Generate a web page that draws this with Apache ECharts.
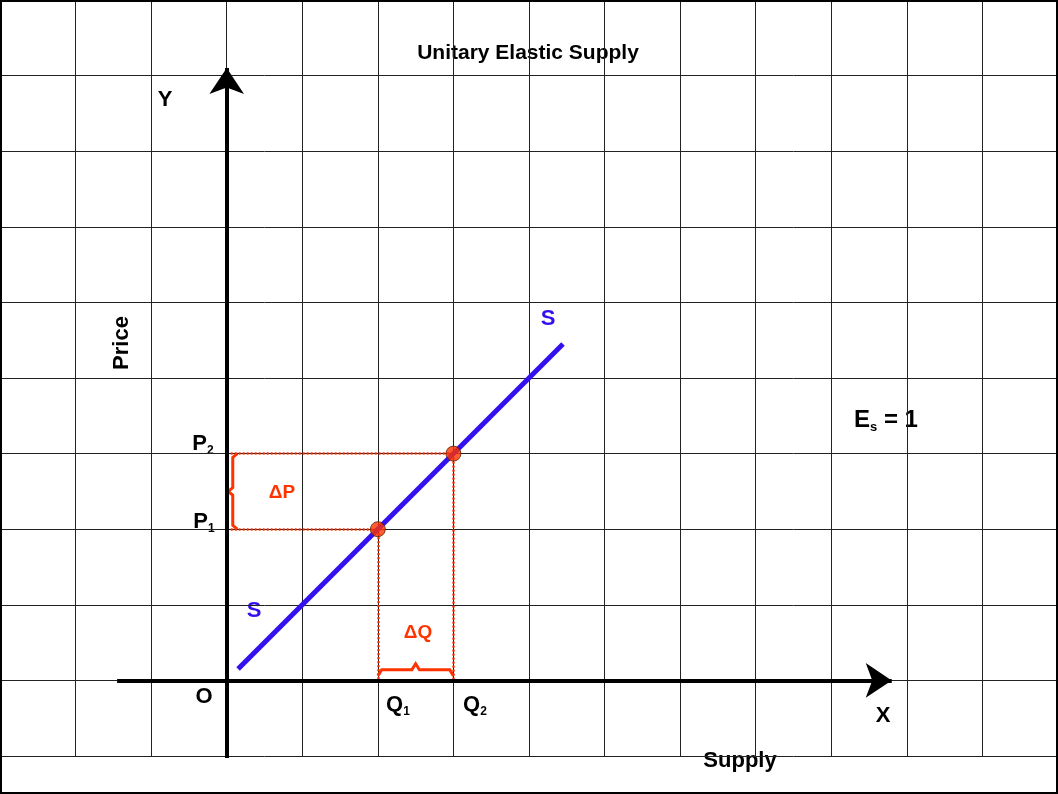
<!DOCTYPE html>
<html><head><meta charset="utf-8">
<script src="https://cdn.jsdelivr.net/npm/echarts@6/dist/echarts.min.js"></script>
<style>html,body{margin:0;padding:0;background:#fff}#c{width:1058px;height:794px}</style>
</head><body><div id="c"></div>
<script>
var supplyLine = [[0.15, 0.15], [4.45, 4.45]];
var points = [[2, 2], [3, 3]];
var xAxisLine = [[-1.45, 0], [8.8, 0]];
var yAxisLine = [[0, -1.2], [0, 8.1]];
var guides = [
    [[0, 3], [3, 3]], [[0, 2], [2, 2]],
    [[2, 2], [2, 0]], [[3, 3], [3, 0]]
];
var braceP = [[0.14, 2.0], [0.08, 2.05], [0.08, 2.45], [0.02, 2.5], [0.08, 2.55], [0.08, 2.95], [0.14, 3.0]];
var braceQ = [[2.0, 0.06], [2.05, 0.14], [2.45, 0.14], [2.5, 0.22], [2.55, 0.14], [2.95, 0.14], [3.0, 0.06]];

var red = '#ff3300', blue = '#3311ee';
var chart = echarts.init(document.getElementById('c'));
function lab(x, y, rich, text, color, size) {
    return {type: 'text', x: x, y: y, style: {text: text, fill: color || '#000', font: 'bold ' + (size || 22) + 'px "Liberation Sans", Arial', textAlign: 'center', textVerticalAlign: 'middle', rich: rich}};
}
var sub = {s: {fontSize: 12, fontWeight: 'bold', padding: [14, 0, 0, 0], fontFamily: 'Liberation Sans'}, m: {fontSize: 22, fontWeight: 'bold', fontFamily: 'Liberation Sans'}};
chart.setOption({
    backgroundColor: '#fff',
    animation: false,
    grid: {left: 0, top: 0, width: 1058, height: 756},
    xAxis: {type: 'value', min: -3, max: 11, interval: 1, axisLine: {show: false}, axisTick: {show: false}, axisLabel: {show: false},
        splitLine: {lineStyle: {color: '#222', width: 1}}},
    yAxis: {type: 'value', min: -1, max: 9, interval: 1, axisLine: {show: false}, axisTick: {show: false}, axisLabel: {show: false},
        splitLine: {lineStyle: {color: '#222', width: 1}}},
    series: [
        {type: 'lines', coordinateSystem: 'cartesian2d', z: 5, symbol: ['none', 'arrow'], symbolSize: [18, 26],
            lineStyle: {color: '#000', width: 4, opacity: 1},
            data: [{coords: xAxisLine}, {coords: yAxisLine}]},
        {type: 'lines', coordinateSystem: 'cartesian2d', z: 4,
            lineStyle: {color: red, width: 2.5, type: [2, 2], opacity: 1},
            data: guides.map(function (g) { return {coords: g}; })},
        {type: 'lines', coordinateSystem: 'cartesian2d', polyline: true, z: 4,
            lineStyle: {color: red, width: 3, opacity: 1},
            data: [{coords: braceP}, {coords: braceQ}]},
        {type: 'line', data: supplyLine, symbol: 'none', z: 6, lineStyle: {color: blue, width: 5}},
        {type: 'scatter', data: points, z: 7, symbolSize: 15, itemStyle: {color: red, borderColor: '#552200', borderWidth: 1}}
    ],
    graphic: [
        {type: 'rect', shape: {x: 1, y: 1, width: 1056, height: 792}, style: {fill: 'none', stroke: '#000', lineWidth: 2}, z: 100},
        lab(528, 53, null, 'Unitary Elastic Supply', '#000', 21),
        lab(165, 100, null, 'Y'),
        {type: 'text', x: 122, y: 343, rotation: Math.PI / 2, style: {text: 'Price', fill: '#000', font: 'bold 22px "Liberation Sans", Arial', textAlign: 'center', textVerticalAlign: 'middle'}},
        lab(883, 716, null, 'X'),
        lab(740, 761, null, 'Supply'),
        lab(204, 697, null, 'O'),
        lab(398, 705, sub, '{m|Q}{s|1}'),
        lab(475, 705, sub, '{m|Q}{s|2}'),
        lab(204, 522, sub, '{m|P}{s|1}'),
        lab(203, 444, sub, '{m|P}{s|2}'),
        lab(254, 611, null, 'S', blue),
        lab(548, 319, null, 'S', blue),
        lab(886, 420, {s: {fontSize: 13, fontWeight: 'bold', padding: [14, 0, 0, 0]}, m: {fontSize: 24, fontWeight: 'bold'}}, '{m|E}{s|s}{m| = 1}'),
        lab(282, 493, null, '\u0394P', red, 19),
        lab(418, 633, null, '\u0394Q', red, 19)
    ]
});
</script></body></html>
